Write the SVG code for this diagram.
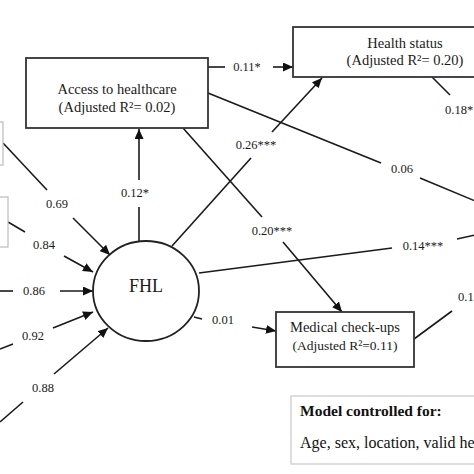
<svg xmlns="http://www.w3.org/2000/svg" width="474" height="474" viewBox="0 0 474 474">
<defs>
<marker id="ah" markerUnits="userSpaceOnUse" markerWidth="11" markerHeight="9" refX="10" refY="4.5" orient="auto">
<path d="M0,0 L10,4.5 L0,9 z" fill="#111"/>
</marker>
<style>
.ln{stroke:#1a1a1a;stroke-width:1.6;fill:none}
.ar{stroke:#1a1a1a;stroke-width:1.6;fill:none;marker-end:url(#ah)}
.box{fill:#fff;stroke:#333;stroke-width:1.8}
.gbox{fill:#fff;stroke:#bbb;stroke-width:1.2}
.lbl{font-family:"Liberation Serif","Times New Roman",serif;font-size:12.5px;fill:#1a1a1a;text-anchor:middle}
.t{font-family:"Liberation Serif","Times New Roman",serif;font-size:14.5px;fill:#1a1a1a;text-anchor:middle}
.m{font-family:"Liberation Serif","Times New Roman",serif;font-size:15.5px;fill:#111}
</style>
</defs>
<rect width="474" height="474" fill="#fff"/>

<g id="connectors">
<!-- FHL -> Access -->
<line class="ln" x1="139" y1="241" x2="139" y2="207"/>
<line class="ar" x1="139" y1="180" x2="139" y2="129"/>
<text class="lbl" x="135" y="197">0.12*</text>
<!-- Access -> Health 0.11* -->
<line class="ln" x1="208" y1="67" x2="225" y2="67"/>
<text class="lbl" x="247" y="71">0.11*</text>
<line class="ar" x1="273" y1="67" x2="293" y2="67"/>
<!-- Access -> right 0.06 -->
<line class="ln" x1="208" y1="93" x2="381" y2="163"/>
<text class="lbl" x="402" y="173">0.06</text>
<line class="ln" x1="420" y1="178" x2="480" y2="203"/>
<!-- Health -> right 0.18* -->
<line class="ln" x1="432" y1="77" x2="450" y2="95"/>
<text class="lbl" x="445" y="114" style="text-anchor:start">0.18*</text>
<!-- Access -> Medical 0.20*** -->
<line class="ln" x1="183" y1="128" x2="262" y2="217"/>
<text class="lbl" x="272" y="235">0.20***</text>
<line class="ar" x1="283" y1="242" x2="342" y2="312"/>
<!-- FHL -> Health 0.26*** -->
<line class="ln" x1="172" y1="246" x2="251" y2="158"/>
<text class="lbl" x="256" y="149">0.26***</text>
<line class="ar" x1="272" y1="132" x2="322" y2="78"/>
<!-- FHL -> right 0.14*** -->
<line class="ln" x1="199" y1="273" x2="392" y2="248"/>
<text class="lbl" x="423" y="250">0.14***</text>
<line class="ln" x1="457" y1="239" x2="480" y2="234"/>
<!-- FHL -> Medical 0.01 -->
<line class="ln" x1="194" y1="317" x2="202" y2="319"/>
<text class="lbl" x="223" y="324">0.01</text>
<line class="ar" x1="252" y1="327" x2="276" y2="331"/>
<!-- Medical -> right 0.1 -->
<line class="ln" x1="414" y1="339" x2="452" y2="311"/>
<text class="lbl" x="458" y="301" style="text-anchor:start">0.1</text>
<!-- indicators -->
<line class="ln" x1="3" y1="143" x2="47" y2="190"/>
<text class="lbl" x="57" y="208">0.69</text>
<line class="ar" x1="73" y1="218" x2="110" y2="255"/>
<line class="ln" x1="8" y1="222" x2="25" y2="232"/>
<text class="lbl" x="44" y="249">0.84</text>
<line class="ar" x1="64" y1="256" x2="93" y2="272"/>
<line class="ln" x1="0" y1="291" x2="13" y2="291"/>
<text class="lbl" x="34" y="295">0.86</text>
<line class="ar" x1="60" y1="291" x2="93" y2="291"/>
<line class="ln" x1="0" y1="349" x2="13" y2="344"/>
<text class="lbl" x="33" y="340">0.92</text>
<line class="ar" x1="53" y1="328" x2="93" y2="312"/>
<line class="ln" x1="0" y1="422" x2="23" y2="402"/>
<text class="lbl" x="43" y="392">0.88</text>
<line class="ar" x1="54" y1="374" x2="108" y2="328"/>
</g>

<g id="indicator1"><rect class="gbox" x="-50" y="122" width="53" height="43"/></g>
<g id="indicator2"><rect class="gbox" x="-50" y="197" width="58" height="50"/></g>

<g id="access">
<rect class="box" x="26" y="58" width="182" height="70"/>
<text class="t" x="117" y="94">Access to healthcare</text>
<text class="t" x="117" y="112">(Adjusted R²= 0.02)</text>
</g>

<g id="health">
<rect class="box" x="293" y="27" width="224" height="50"/>
<text class="t" x="405" y="48">Health status</text>
<text class="t" x="405" y="65">(Adjusted R²= 0.20)</text>
</g>

<g id="medical">
<rect class="box" x="276" y="312" width="138" height="55"/>
<text class="t" x="345" y="332">Medical check-ups</text>
<text class="t" x="345" y="350" style="font-size:13.5px">(Adjusted R²=0.11)</text>
</g>

<g id="fhl">
<ellipse cx="146" cy="291" rx="53" ry="50" fill="#fff" stroke="#222" stroke-width="1.8"/>
<text class="t" x="146" y="292" style="font-size:18px">FHL</text>
</g>

<g id="model">
<rect x="291" y="396" width="250" height="68" fill="#fff" stroke="#c8c8c8" stroke-width="1.2"/>
<text class="m" x="300" y="416" font-weight="bold">Model controlled for:</text>
<text class="m" x="300" y="448" style="font-size:16px">Age, sex, location, valid he</text>
</g>
</svg>
